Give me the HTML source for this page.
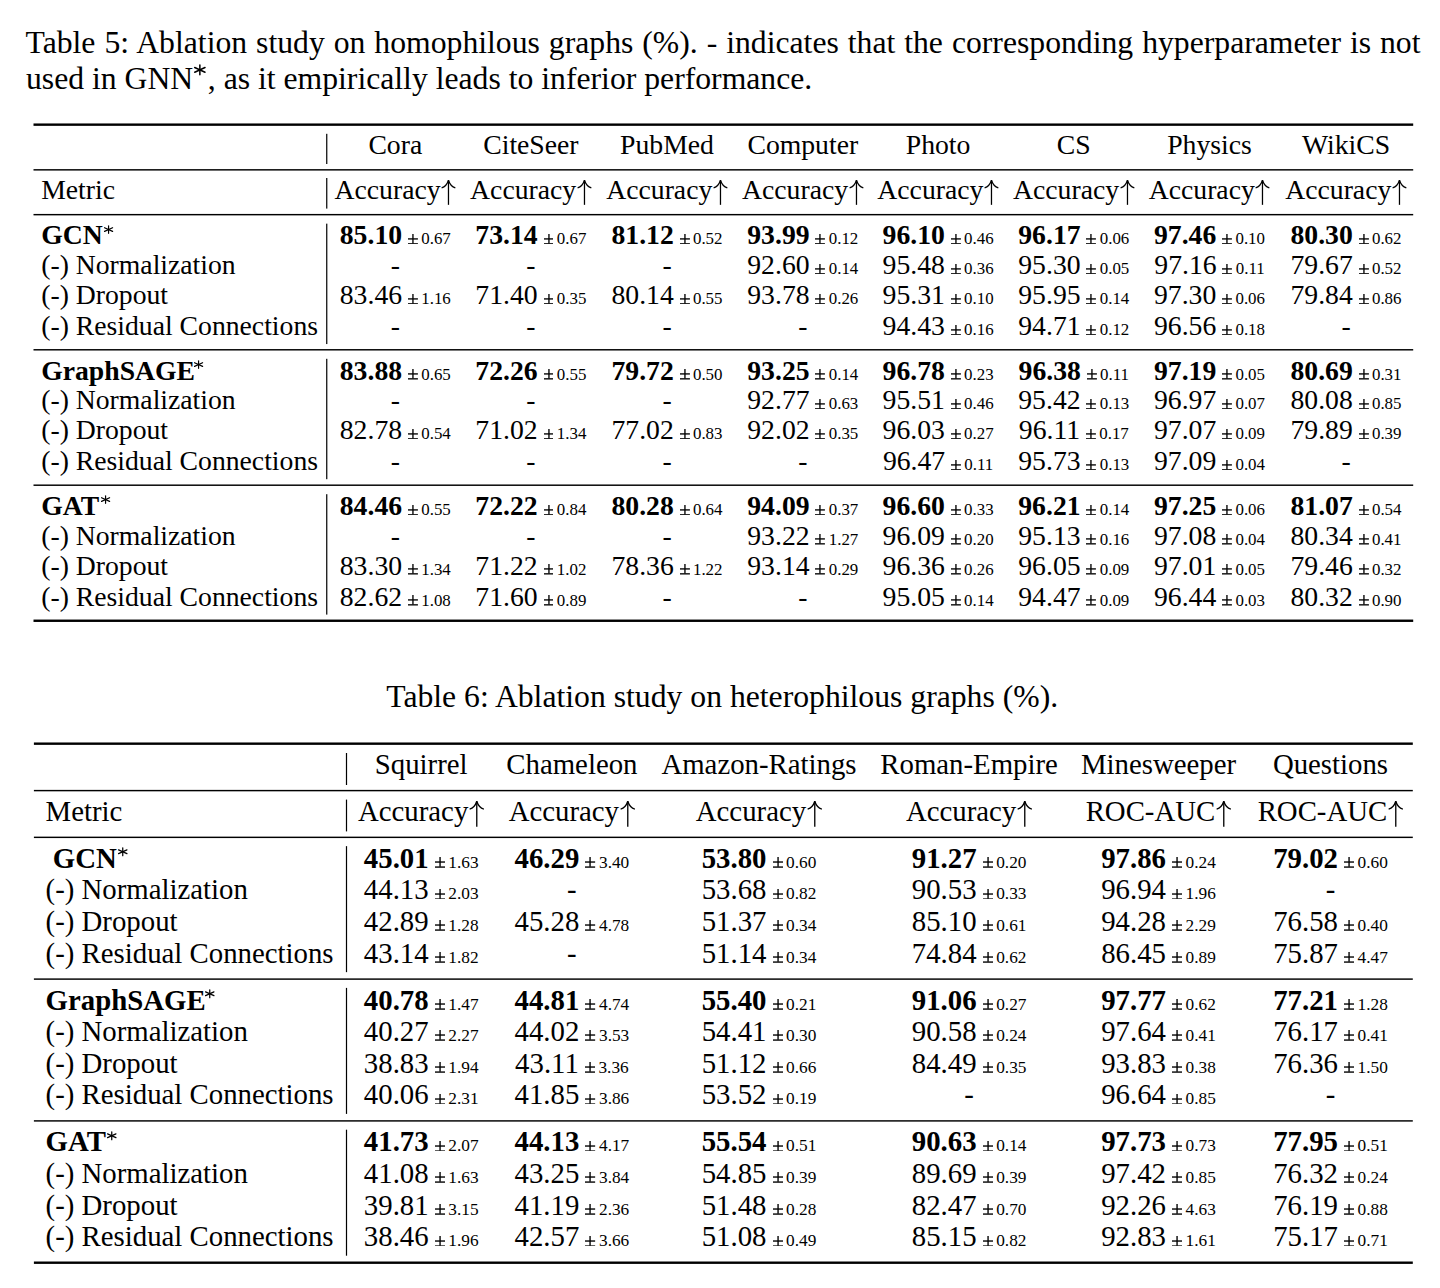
<!DOCTYPE html>
<html><head><meta charset="utf-8"><title>Ablation study tables</title>
<style>
html,body{margin:0;padding:0;background:#fff;}
body{width:1440px;height:1288px;position:relative;overflow:hidden;font-family:"Liberation Serif",serif;color:#000;}
.t{position:absolute;white-space:nowrap;line-height:1;}
.c{text-align:center;}
.r{text-align:right;}
.rl{position:absolute;background:#000;}
.st{width:0.33em;height:0.33em;vertical-align:0.38em;margin-left:0;overflow:visible;}
.cst{width:0.37em;height:0.37em;vertical-align:0.422em;margin-left:0.03em;margin-right:0.06em;}
.ar{width:0.54em;height:0.897em;vertical-align:-0.198em;margin-left:0.02em;}
.pm{width:0.587em;height:0.614em;vertical-align:0;margin-left:0.35em;margin-right:0.2em;}
b{font-weight:bold;}
</style></head><body>
<svg width="1440" height="1288" style="position:absolute;left:0;top:0" viewBox="0 0 1440 1288"><g fill="#000"><rect x="33.50" y="123.45" width="1379.70" height="2.4"/><rect x="33.50" y="169.12" width="1379.70" height="1.45"/><rect x="33.50" y="213.93" width="1379.70" height="1.45"/><rect x="326.15" y="133.80" width="1.2" height="30.20"/><rect x="326.15" y="178.00" width="1.2" height="30.60"/><rect x="33.50" y="349.07" width="1379.70" height="1.45"/><rect x="326.15" y="223.65" width="1.2" height="120.40"/><rect x="33.50" y="484.47" width="1379.70" height="1.45"/><rect x="326.15" y="358.80" width="1.2" height="120.40"/><rect x="33.50" y="619.55" width="1379.70" height="2.4"/><rect x="326.15" y="494.20" width="1.2" height="120.40"/><rect x="33.90" y="742.47" width="1378.90" height="2.4"/><rect x="33.90" y="789.88" width="1378.90" height="1.45"/><rect x="33.90" y="836.62" width="1378.90" height="1.45"/><rect x="345.90" y="753.00" width="1.2" height="32.00"/><rect x="345.90" y="799.60" width="1.2" height="31.80"/><rect x="33.90" y="978.38" width="1378.90" height="1.45"/><rect x="345.90" y="846.15" width="1.2" height="126.00"/><rect x="33.90" y="1120.18" width="1378.90" height="1.45"/><rect x="345.90" y="987.90" width="1.2" height="126.00"/><rect x="33.90" y="1261.50" width="1378.90" height="2.4"/><rect x="345.90" y="1129.70" width="1.2" height="126.00"/></g></svg>
<div class="t cap" style="left:25.5px;top:26.75px;font-size:31.7px;width:1395px;text-align:justify;text-align-last:justify">Table 5: Ablation study on homophilous graphs (%). - indicates that the corresponding hyperparameter is not</div>
<div class="t " style="left:26.00px;top:62.95px;font-size:31.7px">used in GNN<svg class="st cst" viewBox="-50 -50 100 100"><g stroke="#000" stroke-width="13" stroke-linecap="round"><line x1="0" y1="-41" x2="0" y2="41"/><line x1="-44" y1="-20" x2="44" y2="20"/><line x1="-44" y1="20" x2="44" y2="-20"/></g></svg>, as it empirically leads to inferior performance.</div>
<div class="t c " style="left:272.20px;width:900px;top:680.65px;font-size:31.7px">Table 6: Ablation study on heterophilous graphs (%).</div>
<div class="t c " style="left:265.30px;width:260px;top:131.00px;font-size:27.7px">Cora</div>
<div class="t c " style="left:265.30px;width:260px;top:176.20px;font-size:27.7px">Accuracy<svg class="ar" viewBox="0 0 540 897"><g fill="none" stroke="#000" stroke-width="46"><line x1="270" y1="10" x2="270" y2="897"/><path d="M22 281 Q200 230 270 8 Q340 230 518 281"/></g></svg></div>
<div class="t c " style="left:400.90px;width:260px;top:131.00px;font-size:27.7px">CiteSeer</div>
<div class="t c " style="left:400.90px;width:260px;top:176.20px;font-size:27.7px">Accuracy<svg class="ar" viewBox="0 0 540 897"><g fill="none" stroke="#000" stroke-width="46"><line x1="270" y1="10" x2="270" y2="897"/><path d="M22 281 Q200 230 270 8 Q340 230 518 281"/></g></svg></div>
<div class="t c " style="left:537.00px;width:260px;top:131.00px;font-size:27.7px">PubMed</div>
<div class="t c " style="left:537.00px;width:260px;top:176.20px;font-size:27.7px">Accuracy<svg class="ar" viewBox="0 0 540 897"><g fill="none" stroke="#000" stroke-width="46"><line x1="270" y1="10" x2="270" y2="897"/><path d="M22 281 Q200 230 270 8 Q340 230 518 281"/></g></svg></div>
<div class="t c " style="left:672.80px;width:260px;top:131.00px;font-size:27.7px">Computer</div>
<div class="t c " style="left:672.80px;width:260px;top:176.20px;font-size:27.7px">Accuracy<svg class="ar" viewBox="0 0 540 897"><g fill="none" stroke="#000" stroke-width="46"><line x1="270" y1="10" x2="270" y2="897"/><path d="M22 281 Q200 230 270 8 Q340 230 518 281"/></g></svg></div>
<div class="t c " style="left:808.10px;width:260px;top:131.00px;font-size:27.7px">Photo</div>
<div class="t c " style="left:808.10px;width:260px;top:176.20px;font-size:27.7px">Accuracy<svg class="ar" viewBox="0 0 540 897"><g fill="none" stroke="#000" stroke-width="46"><line x1="270" y1="10" x2="270" y2="897"/><path d="M22 281 Q200 230 270 8 Q340 230 518 281"/></g></svg></div>
<div class="t c " style="left:943.80px;width:260px;top:131.00px;font-size:27.7px">CS</div>
<div class="t c " style="left:943.80px;width:260px;top:176.20px;font-size:27.7px">Accuracy<svg class="ar" viewBox="0 0 540 897"><g fill="none" stroke="#000" stroke-width="46"><line x1="270" y1="10" x2="270" y2="897"/><path d="M22 281 Q200 230 270 8 Q340 230 518 281"/></g></svg></div>
<div class="t c " style="left:1079.50px;width:260px;top:131.00px;font-size:27.7px">Physics</div>
<div class="t c " style="left:1079.50px;width:260px;top:176.20px;font-size:27.7px">Accuracy<svg class="ar" viewBox="0 0 540 897"><g fill="none" stroke="#000" stroke-width="46"><line x1="270" y1="10" x2="270" y2="897"/><path d="M22 281 Q200 230 270 8 Q340 230 518 281"/></g></svg></div>
<div class="t c " style="left:1216.00px;width:260px;top:131.00px;font-size:27.7px">WikiCS</div>
<div class="t c " style="left:1216.00px;width:260px;top:176.20px;font-size:27.7px">Accuracy<svg class="ar" viewBox="0 0 540 897"><g fill="none" stroke="#000" stroke-width="46"><line x1="270" y1="10" x2="270" y2="897"/><path d="M22 281 Q200 230 270 8 Q340 230 518 281"/></g></svg></div>
<div class="t " style="left:41.20px;top:176.20px;font-size:27.7px">Metric</div>
<div class="t " style="left:41.20px;top:221.35px;font-size:27.7px"><b>GCN</b><svg class="st" style="margin-left:0.045em" viewBox="-50 -50 100 100"><g stroke="#000" stroke-width="13" stroke-linecap="round"><line x1="0" y1="-41" x2="0" y2="41"/><line x1="-44" y1="-20" x2="44" y2="20"/><line x1="-44" y1="20" x2="44" y2="-20"/></g></svg></div>
<div class="t c " style="left:265.30px;width:260px;top:221.35px;font-size:27.7px"><b>85.10</b><span class="sd" style="font-size:16.9px"><svg class="pm" viewBox="0 0 587 614"><g stroke="#000" stroke-width="80"><line x1="293" y1="0" x2="293" y2="560"/><line x1="0" y1="291" x2="587" y2="291"/><line x1="0" y1="583" x2="587" y2="583"/></g></svg>0.67</span></div>
<div class="t c " style="left:400.90px;width:260px;top:221.35px;font-size:27.7px"><b>73.14</b><span class="sd" style="font-size:16.9px"><svg class="pm" viewBox="0 0 587 614"><g stroke="#000" stroke-width="80"><line x1="293" y1="0" x2="293" y2="560"/><line x1="0" y1="291" x2="587" y2="291"/><line x1="0" y1="583" x2="587" y2="583"/></g></svg>0.67</span></div>
<div class="t c " style="left:537.00px;width:260px;top:221.35px;font-size:27.7px"><b>81.12</b><span class="sd" style="font-size:16.9px"><svg class="pm" viewBox="0 0 587 614"><g stroke="#000" stroke-width="80"><line x1="293" y1="0" x2="293" y2="560"/><line x1="0" y1="291" x2="587" y2="291"/><line x1="0" y1="583" x2="587" y2="583"/></g></svg>0.52</span></div>
<div class="t c " style="left:672.80px;width:260px;top:221.35px;font-size:27.7px"><b>93.99</b><span class="sd" style="font-size:16.9px"><svg class="pm" viewBox="0 0 587 614"><g stroke="#000" stroke-width="80"><line x1="293" y1="0" x2="293" y2="560"/><line x1="0" y1="291" x2="587" y2="291"/><line x1="0" y1="583" x2="587" y2="583"/></g></svg>0.12</span></div>
<div class="t c " style="left:808.10px;width:260px;top:221.35px;font-size:27.7px"><b>96.10</b><span class="sd" style="font-size:16.9px"><svg class="pm" viewBox="0 0 587 614"><g stroke="#000" stroke-width="80"><line x1="293" y1="0" x2="293" y2="560"/><line x1="0" y1="291" x2="587" y2="291"/><line x1="0" y1="583" x2="587" y2="583"/></g></svg>0.46</span></div>
<div class="t c " style="left:943.80px;width:260px;top:221.35px;font-size:27.7px"><b>96.17</b><span class="sd" style="font-size:16.9px"><svg class="pm" viewBox="0 0 587 614"><g stroke="#000" stroke-width="80"><line x1="293" y1="0" x2="293" y2="560"/><line x1="0" y1="291" x2="587" y2="291"/><line x1="0" y1="583" x2="587" y2="583"/></g></svg>0.06</span></div>
<div class="t c " style="left:1079.50px;width:260px;top:221.35px;font-size:27.7px"><b>97.46</b><span class="sd" style="font-size:16.9px"><svg class="pm" viewBox="0 0 587 614"><g stroke="#000" stroke-width="80"><line x1="293" y1="0" x2="293" y2="560"/><line x1="0" y1="291" x2="587" y2="291"/><line x1="0" y1="583" x2="587" y2="583"/></g></svg>0.10</span></div>
<div class="t c " style="left:1216.00px;width:260px;top:221.35px;font-size:27.7px"><b>80.30</b><span class="sd" style="font-size:16.9px"><svg class="pm" viewBox="0 0 587 614"><g stroke="#000" stroke-width="80"><line x1="293" y1="0" x2="293" y2="560"/><line x1="0" y1="291" x2="587" y2="291"/><line x1="0" y1="583" x2="587" y2="583"/></g></svg>0.62</span></div>
<div class="t " style="left:41.20px;top:251.25px;font-size:27.7px">(-) Normalization</div>
<div class="t c " style="left:265.30px;width:260px;top:251.25px;font-size:27.7px">-</div>
<div class="t c " style="left:400.90px;width:260px;top:251.25px;font-size:27.7px">-</div>
<div class="t c " style="left:537.00px;width:260px;top:251.25px;font-size:27.7px">-</div>
<div class="t c " style="left:672.80px;width:260px;top:251.25px;font-size:27.7px">92.60<span class="sd" style="font-size:16.9px"><svg class="pm" viewBox="0 0 587 614"><g stroke="#000" stroke-width="80"><line x1="293" y1="0" x2="293" y2="560"/><line x1="0" y1="291" x2="587" y2="291"/><line x1="0" y1="583" x2="587" y2="583"/></g></svg>0.14</span></div>
<div class="t c " style="left:808.10px;width:260px;top:251.25px;font-size:27.7px">95.48<span class="sd" style="font-size:16.9px"><svg class="pm" viewBox="0 0 587 614"><g stroke="#000" stroke-width="80"><line x1="293" y1="0" x2="293" y2="560"/><line x1="0" y1="291" x2="587" y2="291"/><line x1="0" y1="583" x2="587" y2="583"/></g></svg>0.36</span></div>
<div class="t c " style="left:943.80px;width:260px;top:251.25px;font-size:27.7px">95.30<span class="sd" style="font-size:16.9px"><svg class="pm" viewBox="0 0 587 614"><g stroke="#000" stroke-width="80"><line x1="293" y1="0" x2="293" y2="560"/><line x1="0" y1="291" x2="587" y2="291"/><line x1="0" y1="583" x2="587" y2="583"/></g></svg>0.05</span></div>
<div class="t c " style="left:1079.50px;width:260px;top:251.25px;font-size:27.7px">97.16<span class="sd" style="font-size:16.9px"><svg class="pm" viewBox="0 0 587 614"><g stroke="#000" stroke-width="80"><line x1="293" y1="0" x2="293" y2="560"/><line x1="0" y1="291" x2="587" y2="291"/><line x1="0" y1="583" x2="587" y2="583"/></g></svg>0.11</span></div>
<div class="t c " style="left:1216.00px;width:260px;top:251.25px;font-size:27.7px">79.67<span class="sd" style="font-size:16.9px"><svg class="pm" viewBox="0 0 587 614"><g stroke="#000" stroke-width="80"><line x1="293" y1="0" x2="293" y2="560"/><line x1="0" y1="291" x2="587" y2="291"/><line x1="0" y1="583" x2="587" y2="583"/></g></svg>0.52</span></div>
<div class="t " style="left:41.20px;top:281.10px;font-size:27.7px">(-) Dropout</div>
<div class="t c " style="left:265.30px;width:260px;top:281.10px;font-size:27.7px">83.46<span class="sd" style="font-size:16.9px"><svg class="pm" viewBox="0 0 587 614"><g stroke="#000" stroke-width="80"><line x1="293" y1="0" x2="293" y2="560"/><line x1="0" y1="291" x2="587" y2="291"/><line x1="0" y1="583" x2="587" y2="583"/></g></svg>1.16</span></div>
<div class="t c " style="left:400.90px;width:260px;top:281.10px;font-size:27.7px">71.40<span class="sd" style="font-size:16.9px"><svg class="pm" viewBox="0 0 587 614"><g stroke="#000" stroke-width="80"><line x1="293" y1="0" x2="293" y2="560"/><line x1="0" y1="291" x2="587" y2="291"/><line x1="0" y1="583" x2="587" y2="583"/></g></svg>0.35</span></div>
<div class="t c " style="left:537.00px;width:260px;top:281.10px;font-size:27.7px">80.14<span class="sd" style="font-size:16.9px"><svg class="pm" viewBox="0 0 587 614"><g stroke="#000" stroke-width="80"><line x1="293" y1="0" x2="293" y2="560"/><line x1="0" y1="291" x2="587" y2="291"/><line x1="0" y1="583" x2="587" y2="583"/></g></svg>0.55</span></div>
<div class="t c " style="left:672.80px;width:260px;top:281.10px;font-size:27.7px">93.78<span class="sd" style="font-size:16.9px"><svg class="pm" viewBox="0 0 587 614"><g stroke="#000" stroke-width="80"><line x1="293" y1="0" x2="293" y2="560"/><line x1="0" y1="291" x2="587" y2="291"/><line x1="0" y1="583" x2="587" y2="583"/></g></svg>0.26</span></div>
<div class="t c " style="left:808.10px;width:260px;top:281.10px;font-size:27.7px">95.31<span class="sd" style="font-size:16.9px"><svg class="pm" viewBox="0 0 587 614"><g stroke="#000" stroke-width="80"><line x1="293" y1="0" x2="293" y2="560"/><line x1="0" y1="291" x2="587" y2="291"/><line x1="0" y1="583" x2="587" y2="583"/></g></svg>0.10</span></div>
<div class="t c " style="left:943.80px;width:260px;top:281.10px;font-size:27.7px">95.95<span class="sd" style="font-size:16.9px"><svg class="pm" viewBox="0 0 587 614"><g stroke="#000" stroke-width="80"><line x1="293" y1="0" x2="293" y2="560"/><line x1="0" y1="291" x2="587" y2="291"/><line x1="0" y1="583" x2="587" y2="583"/></g></svg>0.14</span></div>
<div class="t c " style="left:1079.50px;width:260px;top:281.10px;font-size:27.7px">97.30<span class="sd" style="font-size:16.9px"><svg class="pm" viewBox="0 0 587 614"><g stroke="#000" stroke-width="80"><line x1="293" y1="0" x2="293" y2="560"/><line x1="0" y1="291" x2="587" y2="291"/><line x1="0" y1="583" x2="587" y2="583"/></g></svg>0.06</span></div>
<div class="t c " style="left:1216.00px;width:260px;top:281.10px;font-size:27.7px">79.84<span class="sd" style="font-size:16.9px"><svg class="pm" viewBox="0 0 587 614"><g stroke="#000" stroke-width="80"><line x1="293" y1="0" x2="293" y2="560"/><line x1="0" y1="291" x2="587" y2="291"/><line x1="0" y1="583" x2="587" y2="583"/></g></svg>0.86</span></div>
<div class="t " style="left:41.20px;top:311.95px;font-size:27.7px">(-) Residual Connections</div>
<div class="t c " style="left:265.30px;width:260px;top:311.95px;font-size:27.7px">-</div>
<div class="t c " style="left:400.90px;width:260px;top:311.95px;font-size:27.7px">-</div>
<div class="t c " style="left:537.00px;width:260px;top:311.95px;font-size:27.7px">-</div>
<div class="t c " style="left:672.80px;width:260px;top:311.95px;font-size:27.7px">-</div>
<div class="t c " style="left:808.10px;width:260px;top:311.95px;font-size:27.7px">94.43<span class="sd" style="font-size:16.9px"><svg class="pm" viewBox="0 0 587 614"><g stroke="#000" stroke-width="80"><line x1="293" y1="0" x2="293" y2="560"/><line x1="0" y1="291" x2="587" y2="291"/><line x1="0" y1="583" x2="587" y2="583"/></g></svg>0.16</span></div>
<div class="t c " style="left:943.80px;width:260px;top:311.95px;font-size:27.7px">94.71<span class="sd" style="font-size:16.9px"><svg class="pm" viewBox="0 0 587 614"><g stroke="#000" stroke-width="80"><line x1="293" y1="0" x2="293" y2="560"/><line x1="0" y1="291" x2="587" y2="291"/><line x1="0" y1="583" x2="587" y2="583"/></g></svg>0.12</span></div>
<div class="t c " style="left:1079.50px;width:260px;top:311.95px;font-size:27.7px">96.56<span class="sd" style="font-size:16.9px"><svg class="pm" viewBox="0 0 587 614"><g stroke="#000" stroke-width="80"><line x1="293" y1="0" x2="293" y2="560"/><line x1="0" y1="291" x2="587" y2="291"/><line x1="0" y1="583" x2="587" y2="583"/></g></svg>0.18</span></div>
<div class="t c " style="left:1216.00px;width:260px;top:311.95px;font-size:27.7px">-</div>
<div class="t " style="left:41.20px;top:356.50px;font-size:27.7px"><b>GraphSAGE</b><svg class="st" style="margin-left:-0.036em" viewBox="-50 -50 100 100"><g stroke="#000" stroke-width="13" stroke-linecap="round"><line x1="0" y1="-41" x2="0" y2="41"/><line x1="-44" y1="-20" x2="44" y2="20"/><line x1="-44" y1="20" x2="44" y2="-20"/></g></svg></div>
<div class="t c " style="left:265.30px;width:260px;top:356.50px;font-size:27.7px"><b>83.88</b><span class="sd" style="font-size:16.9px"><svg class="pm" viewBox="0 0 587 614"><g stroke="#000" stroke-width="80"><line x1="293" y1="0" x2="293" y2="560"/><line x1="0" y1="291" x2="587" y2="291"/><line x1="0" y1="583" x2="587" y2="583"/></g></svg>0.65</span></div>
<div class="t c " style="left:400.90px;width:260px;top:356.50px;font-size:27.7px"><b>72.26</b><span class="sd" style="font-size:16.9px"><svg class="pm" viewBox="0 0 587 614"><g stroke="#000" stroke-width="80"><line x1="293" y1="0" x2="293" y2="560"/><line x1="0" y1="291" x2="587" y2="291"/><line x1="0" y1="583" x2="587" y2="583"/></g></svg>0.55</span></div>
<div class="t c " style="left:537.00px;width:260px;top:356.50px;font-size:27.7px"><b>79.72</b><span class="sd" style="font-size:16.9px"><svg class="pm" viewBox="0 0 587 614"><g stroke="#000" stroke-width="80"><line x1="293" y1="0" x2="293" y2="560"/><line x1="0" y1="291" x2="587" y2="291"/><line x1="0" y1="583" x2="587" y2="583"/></g></svg>0.50</span></div>
<div class="t c " style="left:672.80px;width:260px;top:356.50px;font-size:27.7px"><b>93.25</b><span class="sd" style="font-size:16.9px"><svg class="pm" viewBox="0 0 587 614"><g stroke="#000" stroke-width="80"><line x1="293" y1="0" x2="293" y2="560"/><line x1="0" y1="291" x2="587" y2="291"/><line x1="0" y1="583" x2="587" y2="583"/></g></svg>0.14</span></div>
<div class="t c " style="left:808.10px;width:260px;top:356.50px;font-size:27.7px"><b>96.78</b><span class="sd" style="font-size:16.9px"><svg class="pm" viewBox="0 0 587 614"><g stroke="#000" stroke-width="80"><line x1="293" y1="0" x2="293" y2="560"/><line x1="0" y1="291" x2="587" y2="291"/><line x1="0" y1="583" x2="587" y2="583"/></g></svg>0.23</span></div>
<div class="t c " style="left:943.80px;width:260px;top:356.50px;font-size:27.7px"><b>96.38</b><span class="sd" style="font-size:16.9px"><svg class="pm" viewBox="0 0 587 614"><g stroke="#000" stroke-width="80"><line x1="293" y1="0" x2="293" y2="560"/><line x1="0" y1="291" x2="587" y2="291"/><line x1="0" y1="583" x2="587" y2="583"/></g></svg>0.11</span></div>
<div class="t c " style="left:1079.50px;width:260px;top:356.50px;font-size:27.7px"><b>97.19</b><span class="sd" style="font-size:16.9px"><svg class="pm" viewBox="0 0 587 614"><g stroke="#000" stroke-width="80"><line x1="293" y1="0" x2="293" y2="560"/><line x1="0" y1="291" x2="587" y2="291"/><line x1="0" y1="583" x2="587" y2="583"/></g></svg>0.05</span></div>
<div class="t c " style="left:1216.00px;width:260px;top:356.50px;font-size:27.7px"><b>80.69</b><span class="sd" style="font-size:16.9px"><svg class="pm" viewBox="0 0 587 614"><g stroke="#000" stroke-width="80"><line x1="293" y1="0" x2="293" y2="560"/><line x1="0" y1="291" x2="587" y2="291"/><line x1="0" y1="583" x2="587" y2="583"/></g></svg>0.31</span></div>
<div class="t " style="left:41.20px;top:386.40px;font-size:27.7px">(-) Normalization</div>
<div class="t c " style="left:265.30px;width:260px;top:386.40px;font-size:27.7px">-</div>
<div class="t c " style="left:400.90px;width:260px;top:386.40px;font-size:27.7px">-</div>
<div class="t c " style="left:537.00px;width:260px;top:386.40px;font-size:27.7px">-</div>
<div class="t c " style="left:672.80px;width:260px;top:386.40px;font-size:27.7px">92.77<span class="sd" style="font-size:16.9px"><svg class="pm" viewBox="0 0 587 614"><g stroke="#000" stroke-width="80"><line x1="293" y1="0" x2="293" y2="560"/><line x1="0" y1="291" x2="587" y2="291"/><line x1="0" y1="583" x2="587" y2="583"/></g></svg>0.63</span></div>
<div class="t c " style="left:808.10px;width:260px;top:386.40px;font-size:27.7px">95.51<span class="sd" style="font-size:16.9px"><svg class="pm" viewBox="0 0 587 614"><g stroke="#000" stroke-width="80"><line x1="293" y1="0" x2="293" y2="560"/><line x1="0" y1="291" x2="587" y2="291"/><line x1="0" y1="583" x2="587" y2="583"/></g></svg>0.46</span></div>
<div class="t c " style="left:943.80px;width:260px;top:386.40px;font-size:27.7px">95.42<span class="sd" style="font-size:16.9px"><svg class="pm" viewBox="0 0 587 614"><g stroke="#000" stroke-width="80"><line x1="293" y1="0" x2="293" y2="560"/><line x1="0" y1="291" x2="587" y2="291"/><line x1="0" y1="583" x2="587" y2="583"/></g></svg>0.13</span></div>
<div class="t c " style="left:1079.50px;width:260px;top:386.40px;font-size:27.7px">96.97<span class="sd" style="font-size:16.9px"><svg class="pm" viewBox="0 0 587 614"><g stroke="#000" stroke-width="80"><line x1="293" y1="0" x2="293" y2="560"/><line x1="0" y1="291" x2="587" y2="291"/><line x1="0" y1="583" x2="587" y2="583"/></g></svg>0.07</span></div>
<div class="t c " style="left:1216.00px;width:260px;top:386.40px;font-size:27.7px">80.08<span class="sd" style="font-size:16.9px"><svg class="pm" viewBox="0 0 587 614"><g stroke="#000" stroke-width="80"><line x1="293" y1="0" x2="293" y2="560"/><line x1="0" y1="291" x2="587" y2="291"/><line x1="0" y1="583" x2="587" y2="583"/></g></svg>0.85</span></div>
<div class="t " style="left:41.20px;top:416.25px;font-size:27.7px">(-) Dropout</div>
<div class="t c " style="left:265.30px;width:260px;top:416.25px;font-size:27.7px">82.78<span class="sd" style="font-size:16.9px"><svg class="pm" viewBox="0 0 587 614"><g stroke="#000" stroke-width="80"><line x1="293" y1="0" x2="293" y2="560"/><line x1="0" y1="291" x2="587" y2="291"/><line x1="0" y1="583" x2="587" y2="583"/></g></svg>0.54</span></div>
<div class="t c " style="left:400.90px;width:260px;top:416.25px;font-size:27.7px">71.02<span class="sd" style="font-size:16.9px"><svg class="pm" viewBox="0 0 587 614"><g stroke="#000" stroke-width="80"><line x1="293" y1="0" x2="293" y2="560"/><line x1="0" y1="291" x2="587" y2="291"/><line x1="0" y1="583" x2="587" y2="583"/></g></svg>1.34</span></div>
<div class="t c " style="left:537.00px;width:260px;top:416.25px;font-size:27.7px">77.02<span class="sd" style="font-size:16.9px"><svg class="pm" viewBox="0 0 587 614"><g stroke="#000" stroke-width="80"><line x1="293" y1="0" x2="293" y2="560"/><line x1="0" y1="291" x2="587" y2="291"/><line x1="0" y1="583" x2="587" y2="583"/></g></svg>0.83</span></div>
<div class="t c " style="left:672.80px;width:260px;top:416.25px;font-size:27.7px">92.02<span class="sd" style="font-size:16.9px"><svg class="pm" viewBox="0 0 587 614"><g stroke="#000" stroke-width="80"><line x1="293" y1="0" x2="293" y2="560"/><line x1="0" y1="291" x2="587" y2="291"/><line x1="0" y1="583" x2="587" y2="583"/></g></svg>0.35</span></div>
<div class="t c " style="left:808.10px;width:260px;top:416.25px;font-size:27.7px">96.03<span class="sd" style="font-size:16.9px"><svg class="pm" viewBox="0 0 587 614"><g stroke="#000" stroke-width="80"><line x1="293" y1="0" x2="293" y2="560"/><line x1="0" y1="291" x2="587" y2="291"/><line x1="0" y1="583" x2="587" y2="583"/></g></svg>0.27</span></div>
<div class="t c " style="left:943.80px;width:260px;top:416.25px;font-size:27.7px">96.11<span class="sd" style="font-size:16.9px"><svg class="pm" viewBox="0 0 587 614"><g stroke="#000" stroke-width="80"><line x1="293" y1="0" x2="293" y2="560"/><line x1="0" y1="291" x2="587" y2="291"/><line x1="0" y1="583" x2="587" y2="583"/></g></svg>0.17</span></div>
<div class="t c " style="left:1079.50px;width:260px;top:416.25px;font-size:27.7px">97.07<span class="sd" style="font-size:16.9px"><svg class="pm" viewBox="0 0 587 614"><g stroke="#000" stroke-width="80"><line x1="293" y1="0" x2="293" y2="560"/><line x1="0" y1="291" x2="587" y2="291"/><line x1="0" y1="583" x2="587" y2="583"/></g></svg>0.09</span></div>
<div class="t c " style="left:1216.00px;width:260px;top:416.25px;font-size:27.7px">79.89<span class="sd" style="font-size:16.9px"><svg class="pm" viewBox="0 0 587 614"><g stroke="#000" stroke-width="80"><line x1="293" y1="0" x2="293" y2="560"/><line x1="0" y1="291" x2="587" y2="291"/><line x1="0" y1="583" x2="587" y2="583"/></g></svg>0.39</span></div>
<div class="t " style="left:41.20px;top:447.10px;font-size:27.7px">(-) Residual Connections</div>
<div class="t c " style="left:265.30px;width:260px;top:447.10px;font-size:27.7px">-</div>
<div class="t c " style="left:400.90px;width:260px;top:447.10px;font-size:27.7px">-</div>
<div class="t c " style="left:537.00px;width:260px;top:447.10px;font-size:27.7px">-</div>
<div class="t c " style="left:672.80px;width:260px;top:447.10px;font-size:27.7px">-</div>
<div class="t c " style="left:808.10px;width:260px;top:447.10px;font-size:27.7px">96.47<span class="sd" style="font-size:16.9px"><svg class="pm" viewBox="0 0 587 614"><g stroke="#000" stroke-width="80"><line x1="293" y1="0" x2="293" y2="560"/><line x1="0" y1="291" x2="587" y2="291"/><line x1="0" y1="583" x2="587" y2="583"/></g></svg>0.11</span></div>
<div class="t c " style="left:943.80px;width:260px;top:447.10px;font-size:27.7px">95.73<span class="sd" style="font-size:16.9px"><svg class="pm" viewBox="0 0 587 614"><g stroke="#000" stroke-width="80"><line x1="293" y1="0" x2="293" y2="560"/><line x1="0" y1="291" x2="587" y2="291"/><line x1="0" y1="583" x2="587" y2="583"/></g></svg>0.13</span></div>
<div class="t c " style="left:1079.50px;width:260px;top:447.10px;font-size:27.7px">97.09<span class="sd" style="font-size:16.9px"><svg class="pm" viewBox="0 0 587 614"><g stroke="#000" stroke-width="80"><line x1="293" y1="0" x2="293" y2="560"/><line x1="0" y1="291" x2="587" y2="291"/><line x1="0" y1="583" x2="587" y2="583"/></g></svg>0.04</span></div>
<div class="t c " style="left:1216.00px;width:260px;top:447.10px;font-size:27.7px">-</div>
<div class="t " style="left:41.20px;top:491.90px;font-size:27.7px"><b>GAT</b><svg class="st" style="margin-left:0.05em" viewBox="-50 -50 100 100"><g stroke="#000" stroke-width="13" stroke-linecap="round"><line x1="0" y1="-41" x2="0" y2="41"/><line x1="-44" y1="-20" x2="44" y2="20"/><line x1="-44" y1="20" x2="44" y2="-20"/></g></svg></div>
<div class="t c " style="left:265.30px;width:260px;top:491.90px;font-size:27.7px"><b>84.46</b><span class="sd" style="font-size:16.9px"><svg class="pm" viewBox="0 0 587 614"><g stroke="#000" stroke-width="80"><line x1="293" y1="0" x2="293" y2="560"/><line x1="0" y1="291" x2="587" y2="291"/><line x1="0" y1="583" x2="587" y2="583"/></g></svg>0.55</span></div>
<div class="t c " style="left:400.90px;width:260px;top:491.90px;font-size:27.7px"><b>72.22</b><span class="sd" style="font-size:16.9px"><svg class="pm" viewBox="0 0 587 614"><g stroke="#000" stroke-width="80"><line x1="293" y1="0" x2="293" y2="560"/><line x1="0" y1="291" x2="587" y2="291"/><line x1="0" y1="583" x2="587" y2="583"/></g></svg>0.84</span></div>
<div class="t c " style="left:537.00px;width:260px;top:491.90px;font-size:27.7px"><b>80.28</b><span class="sd" style="font-size:16.9px"><svg class="pm" viewBox="0 0 587 614"><g stroke="#000" stroke-width="80"><line x1="293" y1="0" x2="293" y2="560"/><line x1="0" y1="291" x2="587" y2="291"/><line x1="0" y1="583" x2="587" y2="583"/></g></svg>0.64</span></div>
<div class="t c " style="left:672.80px;width:260px;top:491.90px;font-size:27.7px"><b>94.09</b><span class="sd" style="font-size:16.9px"><svg class="pm" viewBox="0 0 587 614"><g stroke="#000" stroke-width="80"><line x1="293" y1="0" x2="293" y2="560"/><line x1="0" y1="291" x2="587" y2="291"/><line x1="0" y1="583" x2="587" y2="583"/></g></svg>0.37</span></div>
<div class="t c " style="left:808.10px;width:260px;top:491.90px;font-size:27.7px"><b>96.60</b><span class="sd" style="font-size:16.9px"><svg class="pm" viewBox="0 0 587 614"><g stroke="#000" stroke-width="80"><line x1="293" y1="0" x2="293" y2="560"/><line x1="0" y1="291" x2="587" y2="291"/><line x1="0" y1="583" x2="587" y2="583"/></g></svg>0.33</span></div>
<div class="t c " style="left:943.80px;width:260px;top:491.90px;font-size:27.7px"><b>96.21</b><span class="sd" style="font-size:16.9px"><svg class="pm" viewBox="0 0 587 614"><g stroke="#000" stroke-width="80"><line x1="293" y1="0" x2="293" y2="560"/><line x1="0" y1="291" x2="587" y2="291"/><line x1="0" y1="583" x2="587" y2="583"/></g></svg>0.14</span></div>
<div class="t c " style="left:1079.50px;width:260px;top:491.90px;font-size:27.7px"><b>97.25</b><span class="sd" style="font-size:16.9px"><svg class="pm" viewBox="0 0 587 614"><g stroke="#000" stroke-width="80"><line x1="293" y1="0" x2="293" y2="560"/><line x1="0" y1="291" x2="587" y2="291"/><line x1="0" y1="583" x2="587" y2="583"/></g></svg>0.06</span></div>
<div class="t c " style="left:1216.00px;width:260px;top:491.90px;font-size:27.7px"><b>81.07</b><span class="sd" style="font-size:16.9px"><svg class="pm" viewBox="0 0 587 614"><g stroke="#000" stroke-width="80"><line x1="293" y1="0" x2="293" y2="560"/><line x1="0" y1="291" x2="587" y2="291"/><line x1="0" y1="583" x2="587" y2="583"/></g></svg>0.54</span></div>
<div class="t " style="left:41.20px;top:521.80px;font-size:27.7px">(-) Normalization</div>
<div class="t c " style="left:265.30px;width:260px;top:521.80px;font-size:27.7px">-</div>
<div class="t c " style="left:400.90px;width:260px;top:521.80px;font-size:27.7px">-</div>
<div class="t c " style="left:537.00px;width:260px;top:521.80px;font-size:27.7px">-</div>
<div class="t c " style="left:672.80px;width:260px;top:521.80px;font-size:27.7px">93.22<span class="sd" style="font-size:16.9px"><svg class="pm" viewBox="0 0 587 614"><g stroke="#000" stroke-width="80"><line x1="293" y1="0" x2="293" y2="560"/><line x1="0" y1="291" x2="587" y2="291"/><line x1="0" y1="583" x2="587" y2="583"/></g></svg>1.27</span></div>
<div class="t c " style="left:808.10px;width:260px;top:521.80px;font-size:27.7px">96.09<span class="sd" style="font-size:16.9px"><svg class="pm" viewBox="0 0 587 614"><g stroke="#000" stroke-width="80"><line x1="293" y1="0" x2="293" y2="560"/><line x1="0" y1="291" x2="587" y2="291"/><line x1="0" y1="583" x2="587" y2="583"/></g></svg>0.20</span></div>
<div class="t c " style="left:943.80px;width:260px;top:521.80px;font-size:27.7px">95.13<span class="sd" style="font-size:16.9px"><svg class="pm" viewBox="0 0 587 614"><g stroke="#000" stroke-width="80"><line x1="293" y1="0" x2="293" y2="560"/><line x1="0" y1="291" x2="587" y2="291"/><line x1="0" y1="583" x2="587" y2="583"/></g></svg>0.16</span></div>
<div class="t c " style="left:1079.50px;width:260px;top:521.80px;font-size:27.7px">97.08<span class="sd" style="font-size:16.9px"><svg class="pm" viewBox="0 0 587 614"><g stroke="#000" stroke-width="80"><line x1="293" y1="0" x2="293" y2="560"/><line x1="0" y1="291" x2="587" y2="291"/><line x1="0" y1="583" x2="587" y2="583"/></g></svg>0.04</span></div>
<div class="t c " style="left:1216.00px;width:260px;top:521.80px;font-size:27.7px">80.34<span class="sd" style="font-size:16.9px"><svg class="pm" viewBox="0 0 587 614"><g stroke="#000" stroke-width="80"><line x1="293" y1="0" x2="293" y2="560"/><line x1="0" y1="291" x2="587" y2="291"/><line x1="0" y1="583" x2="587" y2="583"/></g></svg>0.41</span></div>
<div class="t " style="left:41.20px;top:551.65px;font-size:27.7px">(-) Dropout</div>
<div class="t c " style="left:265.30px;width:260px;top:551.65px;font-size:27.7px">83.30<span class="sd" style="font-size:16.9px"><svg class="pm" viewBox="0 0 587 614"><g stroke="#000" stroke-width="80"><line x1="293" y1="0" x2="293" y2="560"/><line x1="0" y1="291" x2="587" y2="291"/><line x1="0" y1="583" x2="587" y2="583"/></g></svg>1.34</span></div>
<div class="t c " style="left:400.90px;width:260px;top:551.65px;font-size:27.7px">71.22<span class="sd" style="font-size:16.9px"><svg class="pm" viewBox="0 0 587 614"><g stroke="#000" stroke-width="80"><line x1="293" y1="0" x2="293" y2="560"/><line x1="0" y1="291" x2="587" y2="291"/><line x1="0" y1="583" x2="587" y2="583"/></g></svg>1.02</span></div>
<div class="t c " style="left:537.00px;width:260px;top:551.65px;font-size:27.7px">78.36<span class="sd" style="font-size:16.9px"><svg class="pm" viewBox="0 0 587 614"><g stroke="#000" stroke-width="80"><line x1="293" y1="0" x2="293" y2="560"/><line x1="0" y1="291" x2="587" y2="291"/><line x1="0" y1="583" x2="587" y2="583"/></g></svg>1.22</span></div>
<div class="t c " style="left:672.80px;width:260px;top:551.65px;font-size:27.7px">93.14<span class="sd" style="font-size:16.9px"><svg class="pm" viewBox="0 0 587 614"><g stroke="#000" stroke-width="80"><line x1="293" y1="0" x2="293" y2="560"/><line x1="0" y1="291" x2="587" y2="291"/><line x1="0" y1="583" x2="587" y2="583"/></g></svg>0.29</span></div>
<div class="t c " style="left:808.10px;width:260px;top:551.65px;font-size:27.7px">96.36<span class="sd" style="font-size:16.9px"><svg class="pm" viewBox="0 0 587 614"><g stroke="#000" stroke-width="80"><line x1="293" y1="0" x2="293" y2="560"/><line x1="0" y1="291" x2="587" y2="291"/><line x1="0" y1="583" x2="587" y2="583"/></g></svg>0.26</span></div>
<div class="t c " style="left:943.80px;width:260px;top:551.65px;font-size:27.7px">96.05<span class="sd" style="font-size:16.9px"><svg class="pm" viewBox="0 0 587 614"><g stroke="#000" stroke-width="80"><line x1="293" y1="0" x2="293" y2="560"/><line x1="0" y1="291" x2="587" y2="291"/><line x1="0" y1="583" x2="587" y2="583"/></g></svg>0.09</span></div>
<div class="t c " style="left:1079.50px;width:260px;top:551.65px;font-size:27.7px">97.01<span class="sd" style="font-size:16.9px"><svg class="pm" viewBox="0 0 587 614"><g stroke="#000" stroke-width="80"><line x1="293" y1="0" x2="293" y2="560"/><line x1="0" y1="291" x2="587" y2="291"/><line x1="0" y1="583" x2="587" y2="583"/></g></svg>0.05</span></div>
<div class="t c " style="left:1216.00px;width:260px;top:551.65px;font-size:27.7px">79.46<span class="sd" style="font-size:16.9px"><svg class="pm" viewBox="0 0 587 614"><g stroke="#000" stroke-width="80"><line x1="293" y1="0" x2="293" y2="560"/><line x1="0" y1="291" x2="587" y2="291"/><line x1="0" y1="583" x2="587" y2="583"/></g></svg>0.32</span></div>
<div class="t " style="left:41.20px;top:582.50px;font-size:27.7px">(-) Residual Connections</div>
<div class="t c " style="left:265.30px;width:260px;top:582.50px;font-size:27.7px">82.62<span class="sd" style="font-size:16.9px"><svg class="pm" viewBox="0 0 587 614"><g stroke="#000" stroke-width="80"><line x1="293" y1="0" x2="293" y2="560"/><line x1="0" y1="291" x2="587" y2="291"/><line x1="0" y1="583" x2="587" y2="583"/></g></svg>1.08</span></div>
<div class="t c " style="left:400.90px;width:260px;top:582.50px;font-size:27.7px">71.60<span class="sd" style="font-size:16.9px"><svg class="pm" viewBox="0 0 587 614"><g stroke="#000" stroke-width="80"><line x1="293" y1="0" x2="293" y2="560"/><line x1="0" y1="291" x2="587" y2="291"/><line x1="0" y1="583" x2="587" y2="583"/></g></svg>0.89</span></div>
<div class="t c " style="left:537.00px;width:260px;top:582.50px;font-size:27.7px">-</div>
<div class="t c " style="left:672.80px;width:260px;top:582.50px;font-size:27.7px">-</div>
<div class="t c " style="left:808.10px;width:260px;top:582.50px;font-size:27.7px">95.05<span class="sd" style="font-size:16.9px"><svg class="pm" viewBox="0 0 587 614"><g stroke="#000" stroke-width="80"><line x1="293" y1="0" x2="293" y2="560"/><line x1="0" y1="291" x2="587" y2="291"/><line x1="0" y1="583" x2="587" y2="583"/></g></svg>0.14</span></div>
<div class="t c " style="left:943.80px;width:260px;top:582.50px;font-size:27.7px">94.47<span class="sd" style="font-size:16.9px"><svg class="pm" viewBox="0 0 587 614"><g stroke="#000" stroke-width="80"><line x1="293" y1="0" x2="293" y2="560"/><line x1="0" y1="291" x2="587" y2="291"/><line x1="0" y1="583" x2="587" y2="583"/></g></svg>0.09</span></div>
<div class="t c " style="left:1079.50px;width:260px;top:582.50px;font-size:27.7px">96.44<span class="sd" style="font-size:16.9px"><svg class="pm" viewBox="0 0 587 614"><g stroke="#000" stroke-width="80"><line x1="293" y1="0" x2="293" y2="560"/><line x1="0" y1="291" x2="587" y2="291"/><line x1="0" y1="583" x2="587" y2="583"/></g></svg>0.03</span></div>
<div class="t c " style="left:1216.00px;width:260px;top:582.50px;font-size:27.7px">80.32<span class="sd" style="font-size:16.9px"><svg class="pm" viewBox="0 0 587 614"><g stroke="#000" stroke-width="80"><line x1="293" y1="0" x2="293" y2="560"/><line x1="0" y1="291" x2="587" y2="291"/><line x1="0" y1="583" x2="587" y2="583"/></g></svg>0.90</span></div>
<div class="t c " style="left:291.20px;width:260px;top:750.18px;font-size:28.8px">Squirrel</div>
<div class="t c " style="left:291.20px;width:260px;top:797.28px;font-size:28.8px">Accuracy<svg class="ar" viewBox="0 0 540 897"><g fill="none" stroke="#000" stroke-width="46"><line x1="270" y1="10" x2="270" y2="897"/><path d="M22 281 Q200 230 270 8 Q340 230 518 281"/></g></svg></div>
<div class="t c " style="left:441.90px;width:260px;top:750.18px;font-size:28.8px">Chameleon</div>
<div class="t c " style="left:441.90px;width:260px;top:797.28px;font-size:28.8px">Accuracy<svg class="ar" viewBox="0 0 540 897"><g fill="none" stroke="#000" stroke-width="46"><line x1="270" y1="10" x2="270" y2="897"/><path d="M22 281 Q200 230 270 8 Q340 230 518 281"/></g></svg></div>
<div class="t c " style="left:629.00px;width:260px;top:750.18px;font-size:28.8px">Amazon-Ratings</div>
<div class="t c " style="left:629.00px;width:260px;top:797.28px;font-size:28.8px">Accuracy<svg class="ar" viewBox="0 0 540 897"><g fill="none" stroke="#000" stroke-width="46"><line x1="270" y1="10" x2="270" y2="897"/><path d="M22 281 Q200 230 270 8 Q340 230 518 281"/></g></svg></div>
<div class="t c " style="left:839.10px;width:260px;top:750.18px;font-size:28.8px">Roman-Empire</div>
<div class="t c " style="left:839.10px;width:260px;top:797.28px;font-size:28.8px">Accuracy<svg class="ar" viewBox="0 0 540 897"><g fill="none" stroke="#000" stroke-width="46"><line x1="270" y1="10" x2="270" y2="897"/><path d="M22 281 Q200 230 270 8 Q340 230 518 281"/></g></svg></div>
<div class="t c " style="left:1028.50px;width:260px;top:750.18px;font-size:28.8px">Minesweeper</div>
<div class="t c " style="left:1028.50px;width:260px;top:797.28px;font-size:28.8px">ROC-AUC<svg class="ar" viewBox="0 0 540 897"><g fill="none" stroke="#000" stroke-width="46"><line x1="270" y1="10" x2="270" y2="897"/><path d="M22 281 Q200 230 270 8 Q340 230 518 281"/></g></svg></div>
<div class="t c " style="left:1200.50px;width:260px;top:750.18px;font-size:28.8px">Questions</div>
<div class="t c " style="left:1200.50px;width:260px;top:797.28px;font-size:28.8px">ROC-AUC<svg class="ar" viewBox="0 0 540 897"><g fill="none" stroke="#000" stroke-width="46"><line x1="270" y1="10" x2="270" y2="897"/><path d="M22 281 Q200 230 270 8 Q340 230 518 281"/></g></svg></div>
<div class="t " style="left:45.60px;top:797.28px;font-size:28.8px">Metric</div>
<div class="t " style="left:52.80px;top:843.88px;font-size:28.8px"><b>GCN</b><svg class="st" style="margin-left:0.045em" viewBox="-50 -50 100 100"><g stroke="#000" stroke-width="13" stroke-linecap="round"><line x1="0" y1="-41" x2="0" y2="41"/><line x1="-44" y1="-20" x2="44" y2="20"/><line x1="-44" y1="20" x2="44" y2="-20"/></g></svg></div>
<div class="t c " style="left:291.20px;width:260px;top:843.88px;font-size:28.8px"><b>45.01</b><span class="sd" style="font-size:17.3px"><svg class="pm" viewBox="0 0 587 614"><g stroke="#000" stroke-width="80"><line x1="293" y1="0" x2="293" y2="560"/><line x1="0" y1="291" x2="587" y2="291"/><line x1="0" y1="583" x2="587" y2="583"/></g></svg>1.63</span></div>
<div class="t c " style="left:441.90px;width:260px;top:843.88px;font-size:28.8px"><b>46.29</b><span class="sd" style="font-size:17.3px"><svg class="pm" viewBox="0 0 587 614"><g stroke="#000" stroke-width="80"><line x1="293" y1="0" x2="293" y2="560"/><line x1="0" y1="291" x2="587" y2="291"/><line x1="0" y1="583" x2="587" y2="583"/></g></svg>3.40</span></div>
<div class="t c " style="left:629.00px;width:260px;top:843.88px;font-size:28.8px"><b>53.80</b><span class="sd" style="font-size:17.3px"><svg class="pm" viewBox="0 0 587 614"><g stroke="#000" stroke-width="80"><line x1="293" y1="0" x2="293" y2="560"/><line x1="0" y1="291" x2="587" y2="291"/><line x1="0" y1="583" x2="587" y2="583"/></g></svg>0.60</span></div>
<div class="t c " style="left:839.10px;width:260px;top:843.88px;font-size:28.8px"><b>91.27</b><span class="sd" style="font-size:17.3px"><svg class="pm" viewBox="0 0 587 614"><g stroke="#000" stroke-width="80"><line x1="293" y1="0" x2="293" y2="560"/><line x1="0" y1="291" x2="587" y2="291"/><line x1="0" y1="583" x2="587" y2="583"/></g></svg>0.20</span></div>
<div class="t c " style="left:1028.50px;width:260px;top:843.88px;font-size:28.8px"><b>97.86</b><span class="sd" style="font-size:17.3px"><svg class="pm" viewBox="0 0 587 614"><g stroke="#000" stroke-width="80"><line x1="293" y1="0" x2="293" y2="560"/><line x1="0" y1="291" x2="587" y2="291"/><line x1="0" y1="583" x2="587" y2="583"/></g></svg>0.24</span></div>
<div class="t c " style="left:1200.50px;width:260px;top:843.88px;font-size:28.8px"><b>79.02</b><span class="sd" style="font-size:17.3px"><svg class="pm" viewBox="0 0 587 614"><g stroke="#000" stroke-width="80"><line x1="293" y1="0" x2="293" y2="560"/><line x1="0" y1="291" x2="587" y2="291"/><line x1="0" y1="583" x2="587" y2="583"/></g></svg>0.60</span></div>
<div class="t " style="left:45.60px;top:875.28px;font-size:28.8px">(-) Normalization</div>
<div class="t c " style="left:291.20px;width:260px;top:875.28px;font-size:28.8px">44.13<span class="sd" style="font-size:17.3px"><svg class="pm" viewBox="0 0 587 614"><g stroke="#000" stroke-width="80"><line x1="293" y1="0" x2="293" y2="560"/><line x1="0" y1="291" x2="587" y2="291"/><line x1="0" y1="583" x2="587" y2="583"/></g></svg>2.03</span></div>
<div class="t c " style="left:441.90px;width:260px;top:875.28px;font-size:28.8px">-</div>
<div class="t c " style="left:629.00px;width:260px;top:875.28px;font-size:28.8px">53.68<span class="sd" style="font-size:17.3px"><svg class="pm" viewBox="0 0 587 614"><g stroke="#000" stroke-width="80"><line x1="293" y1="0" x2="293" y2="560"/><line x1="0" y1="291" x2="587" y2="291"/><line x1="0" y1="583" x2="587" y2="583"/></g></svg>0.82</span></div>
<div class="t c " style="left:839.10px;width:260px;top:875.28px;font-size:28.8px">90.53<span class="sd" style="font-size:17.3px"><svg class="pm" viewBox="0 0 587 614"><g stroke="#000" stroke-width="80"><line x1="293" y1="0" x2="293" y2="560"/><line x1="0" y1="291" x2="587" y2="291"/><line x1="0" y1="583" x2="587" y2="583"/></g></svg>0.33</span></div>
<div class="t c " style="left:1028.50px;width:260px;top:875.28px;font-size:28.8px">96.94<span class="sd" style="font-size:17.3px"><svg class="pm" viewBox="0 0 587 614"><g stroke="#000" stroke-width="80"><line x1="293" y1="0" x2="293" y2="560"/><line x1="0" y1="291" x2="587" y2="291"/><line x1="0" y1="583" x2="587" y2="583"/></g></svg>1.96</span></div>
<div class="t c " style="left:1200.50px;width:260px;top:875.28px;font-size:28.8px">-</div>
<div class="t " style="left:45.60px;top:906.98px;font-size:28.8px">(-) Dropout</div>
<div class="t c " style="left:291.20px;width:260px;top:906.98px;font-size:28.8px">42.89<span class="sd" style="font-size:17.3px"><svg class="pm" viewBox="0 0 587 614"><g stroke="#000" stroke-width="80"><line x1="293" y1="0" x2="293" y2="560"/><line x1="0" y1="291" x2="587" y2="291"/><line x1="0" y1="583" x2="587" y2="583"/></g></svg>1.28</span></div>
<div class="t c " style="left:441.90px;width:260px;top:906.98px;font-size:28.8px">45.28<span class="sd" style="font-size:17.3px"><svg class="pm" viewBox="0 0 587 614"><g stroke="#000" stroke-width="80"><line x1="293" y1="0" x2="293" y2="560"/><line x1="0" y1="291" x2="587" y2="291"/><line x1="0" y1="583" x2="587" y2="583"/></g></svg>4.78</span></div>
<div class="t c " style="left:629.00px;width:260px;top:906.98px;font-size:28.8px">51.37<span class="sd" style="font-size:17.3px"><svg class="pm" viewBox="0 0 587 614"><g stroke="#000" stroke-width="80"><line x1="293" y1="0" x2="293" y2="560"/><line x1="0" y1="291" x2="587" y2="291"/><line x1="0" y1="583" x2="587" y2="583"/></g></svg>0.34</span></div>
<div class="t c " style="left:839.10px;width:260px;top:906.98px;font-size:28.8px">85.10<span class="sd" style="font-size:17.3px"><svg class="pm" viewBox="0 0 587 614"><g stroke="#000" stroke-width="80"><line x1="293" y1="0" x2="293" y2="560"/><line x1="0" y1="291" x2="587" y2="291"/><line x1="0" y1="583" x2="587" y2="583"/></g></svg>0.61</span></div>
<div class="t c " style="left:1028.50px;width:260px;top:906.98px;font-size:28.8px">94.28<span class="sd" style="font-size:17.3px"><svg class="pm" viewBox="0 0 587 614"><g stroke="#000" stroke-width="80"><line x1="293" y1="0" x2="293" y2="560"/><line x1="0" y1="291" x2="587" y2="291"/><line x1="0" y1="583" x2="587" y2="583"/></g></svg>2.29</span></div>
<div class="t c " style="left:1200.50px;width:260px;top:906.98px;font-size:28.8px">76.58<span class="sd" style="font-size:17.3px"><svg class="pm" viewBox="0 0 587 614"><g stroke="#000" stroke-width="80"><line x1="293" y1="0" x2="293" y2="560"/><line x1="0" y1="291" x2="587" y2="291"/><line x1="0" y1="583" x2="587" y2="583"/></g></svg>0.40</span></div>
<div class="t " style="left:45.60px;top:938.58px;font-size:28.8px">(-) Residual Connections</div>
<div class="t c " style="left:291.20px;width:260px;top:938.58px;font-size:28.8px">43.14<span class="sd" style="font-size:17.3px"><svg class="pm" viewBox="0 0 587 614"><g stroke="#000" stroke-width="80"><line x1="293" y1="0" x2="293" y2="560"/><line x1="0" y1="291" x2="587" y2="291"/><line x1="0" y1="583" x2="587" y2="583"/></g></svg>1.82</span></div>
<div class="t c " style="left:441.90px;width:260px;top:938.58px;font-size:28.8px">-</div>
<div class="t c " style="left:629.00px;width:260px;top:938.58px;font-size:28.8px">51.14<span class="sd" style="font-size:17.3px"><svg class="pm" viewBox="0 0 587 614"><g stroke="#000" stroke-width="80"><line x1="293" y1="0" x2="293" y2="560"/><line x1="0" y1="291" x2="587" y2="291"/><line x1="0" y1="583" x2="587" y2="583"/></g></svg>0.34</span></div>
<div class="t c " style="left:839.10px;width:260px;top:938.58px;font-size:28.8px">74.84<span class="sd" style="font-size:17.3px"><svg class="pm" viewBox="0 0 587 614"><g stroke="#000" stroke-width="80"><line x1="293" y1="0" x2="293" y2="560"/><line x1="0" y1="291" x2="587" y2="291"/><line x1="0" y1="583" x2="587" y2="583"/></g></svg>0.62</span></div>
<div class="t c " style="left:1028.50px;width:260px;top:938.58px;font-size:28.8px">86.45<span class="sd" style="font-size:17.3px"><svg class="pm" viewBox="0 0 587 614"><g stroke="#000" stroke-width="80"><line x1="293" y1="0" x2="293" y2="560"/><line x1="0" y1="291" x2="587" y2="291"/><line x1="0" y1="583" x2="587" y2="583"/></g></svg>0.89</span></div>
<div class="t c " style="left:1200.50px;width:260px;top:938.58px;font-size:28.8px">75.87<span class="sd" style="font-size:17.3px"><svg class="pm" viewBox="0 0 587 614"><g stroke="#000" stroke-width="80"><line x1="293" y1="0" x2="293" y2="560"/><line x1="0" y1="291" x2="587" y2="291"/><line x1="0" y1="583" x2="587" y2="583"/></g></svg>4.47</span></div>
<div class="t " style="left:45.60px;top:985.63px;font-size:28.8px"><b>GraphSAGE</b><svg class="st" style="margin-left:-0.036em" viewBox="-50 -50 100 100"><g stroke="#000" stroke-width="13" stroke-linecap="round"><line x1="0" y1="-41" x2="0" y2="41"/><line x1="-44" y1="-20" x2="44" y2="20"/><line x1="-44" y1="20" x2="44" y2="-20"/></g></svg></div>
<div class="t c " style="left:291.20px;width:260px;top:985.63px;font-size:28.8px"><b>40.78</b><span class="sd" style="font-size:17.3px"><svg class="pm" viewBox="0 0 587 614"><g stroke="#000" stroke-width="80"><line x1="293" y1="0" x2="293" y2="560"/><line x1="0" y1="291" x2="587" y2="291"/><line x1="0" y1="583" x2="587" y2="583"/></g></svg>1.47</span></div>
<div class="t c " style="left:441.90px;width:260px;top:985.63px;font-size:28.8px"><b>44.81</b><span class="sd" style="font-size:17.3px"><svg class="pm" viewBox="0 0 587 614"><g stroke="#000" stroke-width="80"><line x1="293" y1="0" x2="293" y2="560"/><line x1="0" y1="291" x2="587" y2="291"/><line x1="0" y1="583" x2="587" y2="583"/></g></svg>4.74</span></div>
<div class="t c " style="left:629.00px;width:260px;top:985.63px;font-size:28.8px"><b>55.40</b><span class="sd" style="font-size:17.3px"><svg class="pm" viewBox="0 0 587 614"><g stroke="#000" stroke-width="80"><line x1="293" y1="0" x2="293" y2="560"/><line x1="0" y1="291" x2="587" y2="291"/><line x1="0" y1="583" x2="587" y2="583"/></g></svg>0.21</span></div>
<div class="t c " style="left:839.10px;width:260px;top:985.63px;font-size:28.8px"><b>91.06</b><span class="sd" style="font-size:17.3px"><svg class="pm" viewBox="0 0 587 614"><g stroke="#000" stroke-width="80"><line x1="293" y1="0" x2="293" y2="560"/><line x1="0" y1="291" x2="587" y2="291"/><line x1="0" y1="583" x2="587" y2="583"/></g></svg>0.27</span></div>
<div class="t c " style="left:1028.50px;width:260px;top:985.63px;font-size:28.8px"><b>97.77</b><span class="sd" style="font-size:17.3px"><svg class="pm" viewBox="0 0 587 614"><g stroke="#000" stroke-width="80"><line x1="293" y1="0" x2="293" y2="560"/><line x1="0" y1="291" x2="587" y2="291"/><line x1="0" y1="583" x2="587" y2="583"/></g></svg>0.62</span></div>
<div class="t c " style="left:1200.50px;width:260px;top:985.63px;font-size:28.8px"><b>77.21</b><span class="sd" style="font-size:17.3px"><svg class="pm" viewBox="0 0 587 614"><g stroke="#000" stroke-width="80"><line x1="293" y1="0" x2="293" y2="560"/><line x1="0" y1="291" x2="587" y2="291"/><line x1="0" y1="583" x2="587" y2="583"/></g></svg>1.28</span></div>
<div class="t " style="left:45.60px;top:1017.03px;font-size:28.8px">(-) Normalization</div>
<div class="t c " style="left:291.20px;width:260px;top:1017.03px;font-size:28.8px">40.27<span class="sd" style="font-size:17.3px"><svg class="pm" viewBox="0 0 587 614"><g stroke="#000" stroke-width="80"><line x1="293" y1="0" x2="293" y2="560"/><line x1="0" y1="291" x2="587" y2="291"/><line x1="0" y1="583" x2="587" y2="583"/></g></svg>2.27</span></div>
<div class="t c " style="left:441.90px;width:260px;top:1017.03px;font-size:28.8px">44.02<span class="sd" style="font-size:17.3px"><svg class="pm" viewBox="0 0 587 614"><g stroke="#000" stroke-width="80"><line x1="293" y1="0" x2="293" y2="560"/><line x1="0" y1="291" x2="587" y2="291"/><line x1="0" y1="583" x2="587" y2="583"/></g></svg>3.53</span></div>
<div class="t c " style="left:629.00px;width:260px;top:1017.03px;font-size:28.8px">54.41<span class="sd" style="font-size:17.3px"><svg class="pm" viewBox="0 0 587 614"><g stroke="#000" stroke-width="80"><line x1="293" y1="0" x2="293" y2="560"/><line x1="0" y1="291" x2="587" y2="291"/><line x1="0" y1="583" x2="587" y2="583"/></g></svg>0.30</span></div>
<div class="t c " style="left:839.10px;width:260px;top:1017.03px;font-size:28.8px">90.58<span class="sd" style="font-size:17.3px"><svg class="pm" viewBox="0 0 587 614"><g stroke="#000" stroke-width="80"><line x1="293" y1="0" x2="293" y2="560"/><line x1="0" y1="291" x2="587" y2="291"/><line x1="0" y1="583" x2="587" y2="583"/></g></svg>0.24</span></div>
<div class="t c " style="left:1028.50px;width:260px;top:1017.03px;font-size:28.8px">97.64<span class="sd" style="font-size:17.3px"><svg class="pm" viewBox="0 0 587 614"><g stroke="#000" stroke-width="80"><line x1="293" y1="0" x2="293" y2="560"/><line x1="0" y1="291" x2="587" y2="291"/><line x1="0" y1="583" x2="587" y2="583"/></g></svg>0.41</span></div>
<div class="t c " style="left:1200.50px;width:260px;top:1017.03px;font-size:28.8px">76.17<span class="sd" style="font-size:17.3px"><svg class="pm" viewBox="0 0 587 614"><g stroke="#000" stroke-width="80"><line x1="293" y1="0" x2="293" y2="560"/><line x1="0" y1="291" x2="587" y2="291"/><line x1="0" y1="583" x2="587" y2="583"/></g></svg>0.41</span></div>
<div class="t " style="left:45.60px;top:1048.73px;font-size:28.8px">(-) Dropout</div>
<div class="t c " style="left:291.20px;width:260px;top:1048.73px;font-size:28.8px">38.83<span class="sd" style="font-size:17.3px"><svg class="pm" viewBox="0 0 587 614"><g stroke="#000" stroke-width="80"><line x1="293" y1="0" x2="293" y2="560"/><line x1="0" y1="291" x2="587" y2="291"/><line x1="0" y1="583" x2="587" y2="583"/></g></svg>1.94</span></div>
<div class="t c " style="left:441.90px;width:260px;top:1048.73px;font-size:28.8px">43.11<span class="sd" style="font-size:17.3px"><svg class="pm" viewBox="0 0 587 614"><g stroke="#000" stroke-width="80"><line x1="293" y1="0" x2="293" y2="560"/><line x1="0" y1="291" x2="587" y2="291"/><line x1="0" y1="583" x2="587" y2="583"/></g></svg>3.36</span></div>
<div class="t c " style="left:629.00px;width:260px;top:1048.73px;font-size:28.8px">51.12<span class="sd" style="font-size:17.3px"><svg class="pm" viewBox="0 0 587 614"><g stroke="#000" stroke-width="80"><line x1="293" y1="0" x2="293" y2="560"/><line x1="0" y1="291" x2="587" y2="291"/><line x1="0" y1="583" x2="587" y2="583"/></g></svg>0.66</span></div>
<div class="t c " style="left:839.10px;width:260px;top:1048.73px;font-size:28.8px">84.49<span class="sd" style="font-size:17.3px"><svg class="pm" viewBox="0 0 587 614"><g stroke="#000" stroke-width="80"><line x1="293" y1="0" x2="293" y2="560"/><line x1="0" y1="291" x2="587" y2="291"/><line x1="0" y1="583" x2="587" y2="583"/></g></svg>0.35</span></div>
<div class="t c " style="left:1028.50px;width:260px;top:1048.73px;font-size:28.8px">93.83<span class="sd" style="font-size:17.3px"><svg class="pm" viewBox="0 0 587 614"><g stroke="#000" stroke-width="80"><line x1="293" y1="0" x2="293" y2="560"/><line x1="0" y1="291" x2="587" y2="291"/><line x1="0" y1="583" x2="587" y2="583"/></g></svg>0.38</span></div>
<div class="t c " style="left:1200.50px;width:260px;top:1048.73px;font-size:28.8px">76.36<span class="sd" style="font-size:17.3px"><svg class="pm" viewBox="0 0 587 614"><g stroke="#000" stroke-width="80"><line x1="293" y1="0" x2="293" y2="560"/><line x1="0" y1="291" x2="587" y2="291"/><line x1="0" y1="583" x2="587" y2="583"/></g></svg>1.50</span></div>
<div class="t " style="left:45.60px;top:1080.33px;font-size:28.8px">(-) Residual Connections</div>
<div class="t c " style="left:291.20px;width:260px;top:1080.33px;font-size:28.8px">40.06<span class="sd" style="font-size:17.3px"><svg class="pm" viewBox="0 0 587 614"><g stroke="#000" stroke-width="80"><line x1="293" y1="0" x2="293" y2="560"/><line x1="0" y1="291" x2="587" y2="291"/><line x1="0" y1="583" x2="587" y2="583"/></g></svg>2.31</span></div>
<div class="t c " style="left:441.90px;width:260px;top:1080.33px;font-size:28.8px">41.85<span class="sd" style="font-size:17.3px"><svg class="pm" viewBox="0 0 587 614"><g stroke="#000" stroke-width="80"><line x1="293" y1="0" x2="293" y2="560"/><line x1="0" y1="291" x2="587" y2="291"/><line x1="0" y1="583" x2="587" y2="583"/></g></svg>3.86</span></div>
<div class="t c " style="left:629.00px;width:260px;top:1080.33px;font-size:28.8px">53.52<span class="sd" style="font-size:17.3px"><svg class="pm" viewBox="0 0 587 614"><g stroke="#000" stroke-width="80"><line x1="293" y1="0" x2="293" y2="560"/><line x1="0" y1="291" x2="587" y2="291"/><line x1="0" y1="583" x2="587" y2="583"/></g></svg>0.19</span></div>
<div class="t c " style="left:839.10px;width:260px;top:1080.33px;font-size:28.8px">-</div>
<div class="t c " style="left:1028.50px;width:260px;top:1080.33px;font-size:28.8px">96.64<span class="sd" style="font-size:17.3px"><svg class="pm" viewBox="0 0 587 614"><g stroke="#000" stroke-width="80"><line x1="293" y1="0" x2="293" y2="560"/><line x1="0" y1="291" x2="587" y2="291"/><line x1="0" y1="583" x2="587" y2="583"/></g></svg>0.85</span></div>
<div class="t c " style="left:1200.50px;width:260px;top:1080.33px;font-size:28.8px">-</div>
<div class="t " style="left:45.60px;top:1127.43px;font-size:28.8px"><b>GAT</b><svg class="st" style="margin-left:0.05em" viewBox="-50 -50 100 100"><g stroke="#000" stroke-width="13" stroke-linecap="round"><line x1="0" y1="-41" x2="0" y2="41"/><line x1="-44" y1="-20" x2="44" y2="20"/><line x1="-44" y1="20" x2="44" y2="-20"/></g></svg></div>
<div class="t c " style="left:291.20px;width:260px;top:1127.43px;font-size:28.8px"><b>41.73</b><span class="sd" style="font-size:17.3px"><svg class="pm" viewBox="0 0 587 614"><g stroke="#000" stroke-width="80"><line x1="293" y1="0" x2="293" y2="560"/><line x1="0" y1="291" x2="587" y2="291"/><line x1="0" y1="583" x2="587" y2="583"/></g></svg>2.07</span></div>
<div class="t c " style="left:441.90px;width:260px;top:1127.43px;font-size:28.8px"><b>44.13</b><span class="sd" style="font-size:17.3px"><svg class="pm" viewBox="0 0 587 614"><g stroke="#000" stroke-width="80"><line x1="293" y1="0" x2="293" y2="560"/><line x1="0" y1="291" x2="587" y2="291"/><line x1="0" y1="583" x2="587" y2="583"/></g></svg>4.17</span></div>
<div class="t c " style="left:629.00px;width:260px;top:1127.43px;font-size:28.8px"><b>55.54</b><span class="sd" style="font-size:17.3px"><svg class="pm" viewBox="0 0 587 614"><g stroke="#000" stroke-width="80"><line x1="293" y1="0" x2="293" y2="560"/><line x1="0" y1="291" x2="587" y2="291"/><line x1="0" y1="583" x2="587" y2="583"/></g></svg>0.51</span></div>
<div class="t c " style="left:839.10px;width:260px;top:1127.43px;font-size:28.8px"><b>90.63</b><span class="sd" style="font-size:17.3px"><svg class="pm" viewBox="0 0 587 614"><g stroke="#000" stroke-width="80"><line x1="293" y1="0" x2="293" y2="560"/><line x1="0" y1="291" x2="587" y2="291"/><line x1="0" y1="583" x2="587" y2="583"/></g></svg>0.14</span></div>
<div class="t c " style="left:1028.50px;width:260px;top:1127.43px;font-size:28.8px"><b>97.73</b><span class="sd" style="font-size:17.3px"><svg class="pm" viewBox="0 0 587 614"><g stroke="#000" stroke-width="80"><line x1="293" y1="0" x2="293" y2="560"/><line x1="0" y1="291" x2="587" y2="291"/><line x1="0" y1="583" x2="587" y2="583"/></g></svg>0.73</span></div>
<div class="t c " style="left:1200.50px;width:260px;top:1127.43px;font-size:28.8px"><b>77.95</b><span class="sd" style="font-size:17.3px"><svg class="pm" viewBox="0 0 587 614"><g stroke="#000" stroke-width="80"><line x1="293" y1="0" x2="293" y2="560"/><line x1="0" y1="291" x2="587" y2="291"/><line x1="0" y1="583" x2="587" y2="583"/></g></svg>0.51</span></div>
<div class="t " style="left:45.60px;top:1158.83px;font-size:28.8px">(-) Normalization</div>
<div class="t c " style="left:291.20px;width:260px;top:1158.83px;font-size:28.8px">41.08<span class="sd" style="font-size:17.3px"><svg class="pm" viewBox="0 0 587 614"><g stroke="#000" stroke-width="80"><line x1="293" y1="0" x2="293" y2="560"/><line x1="0" y1="291" x2="587" y2="291"/><line x1="0" y1="583" x2="587" y2="583"/></g></svg>1.63</span></div>
<div class="t c " style="left:441.90px;width:260px;top:1158.83px;font-size:28.8px">43.25<span class="sd" style="font-size:17.3px"><svg class="pm" viewBox="0 0 587 614"><g stroke="#000" stroke-width="80"><line x1="293" y1="0" x2="293" y2="560"/><line x1="0" y1="291" x2="587" y2="291"/><line x1="0" y1="583" x2="587" y2="583"/></g></svg>3.84</span></div>
<div class="t c " style="left:629.00px;width:260px;top:1158.83px;font-size:28.8px">54.85<span class="sd" style="font-size:17.3px"><svg class="pm" viewBox="0 0 587 614"><g stroke="#000" stroke-width="80"><line x1="293" y1="0" x2="293" y2="560"/><line x1="0" y1="291" x2="587" y2="291"/><line x1="0" y1="583" x2="587" y2="583"/></g></svg>0.39</span></div>
<div class="t c " style="left:839.10px;width:260px;top:1158.83px;font-size:28.8px">89.69<span class="sd" style="font-size:17.3px"><svg class="pm" viewBox="0 0 587 614"><g stroke="#000" stroke-width="80"><line x1="293" y1="0" x2="293" y2="560"/><line x1="0" y1="291" x2="587" y2="291"/><line x1="0" y1="583" x2="587" y2="583"/></g></svg>0.39</span></div>
<div class="t c " style="left:1028.50px;width:260px;top:1158.83px;font-size:28.8px">97.42<span class="sd" style="font-size:17.3px"><svg class="pm" viewBox="0 0 587 614"><g stroke="#000" stroke-width="80"><line x1="293" y1="0" x2="293" y2="560"/><line x1="0" y1="291" x2="587" y2="291"/><line x1="0" y1="583" x2="587" y2="583"/></g></svg>0.85</span></div>
<div class="t c " style="left:1200.50px;width:260px;top:1158.83px;font-size:28.8px">76.32<span class="sd" style="font-size:17.3px"><svg class="pm" viewBox="0 0 587 614"><g stroke="#000" stroke-width="80"><line x1="293" y1="0" x2="293" y2="560"/><line x1="0" y1="291" x2="587" y2="291"/><line x1="0" y1="583" x2="587" y2="583"/></g></svg>0.24</span></div>
<div class="t " style="left:45.60px;top:1190.53px;font-size:28.8px">(-) Dropout</div>
<div class="t c " style="left:291.20px;width:260px;top:1190.53px;font-size:28.8px">39.81<span class="sd" style="font-size:17.3px"><svg class="pm" viewBox="0 0 587 614"><g stroke="#000" stroke-width="80"><line x1="293" y1="0" x2="293" y2="560"/><line x1="0" y1="291" x2="587" y2="291"/><line x1="0" y1="583" x2="587" y2="583"/></g></svg>3.15</span></div>
<div class="t c " style="left:441.90px;width:260px;top:1190.53px;font-size:28.8px">41.19<span class="sd" style="font-size:17.3px"><svg class="pm" viewBox="0 0 587 614"><g stroke="#000" stroke-width="80"><line x1="293" y1="0" x2="293" y2="560"/><line x1="0" y1="291" x2="587" y2="291"/><line x1="0" y1="583" x2="587" y2="583"/></g></svg>2.36</span></div>
<div class="t c " style="left:629.00px;width:260px;top:1190.53px;font-size:28.8px">51.48<span class="sd" style="font-size:17.3px"><svg class="pm" viewBox="0 0 587 614"><g stroke="#000" stroke-width="80"><line x1="293" y1="0" x2="293" y2="560"/><line x1="0" y1="291" x2="587" y2="291"/><line x1="0" y1="583" x2="587" y2="583"/></g></svg>0.28</span></div>
<div class="t c " style="left:839.10px;width:260px;top:1190.53px;font-size:28.8px">82.47<span class="sd" style="font-size:17.3px"><svg class="pm" viewBox="0 0 587 614"><g stroke="#000" stroke-width="80"><line x1="293" y1="0" x2="293" y2="560"/><line x1="0" y1="291" x2="587" y2="291"/><line x1="0" y1="583" x2="587" y2="583"/></g></svg>0.70</span></div>
<div class="t c " style="left:1028.50px;width:260px;top:1190.53px;font-size:28.8px">92.26<span class="sd" style="font-size:17.3px"><svg class="pm" viewBox="0 0 587 614"><g stroke="#000" stroke-width="80"><line x1="293" y1="0" x2="293" y2="560"/><line x1="0" y1="291" x2="587" y2="291"/><line x1="0" y1="583" x2="587" y2="583"/></g></svg>4.63</span></div>
<div class="t c " style="left:1200.50px;width:260px;top:1190.53px;font-size:28.8px">76.19<span class="sd" style="font-size:17.3px"><svg class="pm" viewBox="0 0 587 614"><g stroke="#000" stroke-width="80"><line x1="293" y1="0" x2="293" y2="560"/><line x1="0" y1="291" x2="587" y2="291"/><line x1="0" y1="583" x2="587" y2="583"/></g></svg>0.88</span></div>
<div class="t " style="left:45.60px;top:1222.13px;font-size:28.8px">(-) Residual Connections</div>
<div class="t c " style="left:291.20px;width:260px;top:1222.13px;font-size:28.8px">38.46<span class="sd" style="font-size:17.3px"><svg class="pm" viewBox="0 0 587 614"><g stroke="#000" stroke-width="80"><line x1="293" y1="0" x2="293" y2="560"/><line x1="0" y1="291" x2="587" y2="291"/><line x1="0" y1="583" x2="587" y2="583"/></g></svg>1.96</span></div>
<div class="t c " style="left:441.90px;width:260px;top:1222.13px;font-size:28.8px">42.57<span class="sd" style="font-size:17.3px"><svg class="pm" viewBox="0 0 587 614"><g stroke="#000" stroke-width="80"><line x1="293" y1="0" x2="293" y2="560"/><line x1="0" y1="291" x2="587" y2="291"/><line x1="0" y1="583" x2="587" y2="583"/></g></svg>3.66</span></div>
<div class="t c " style="left:629.00px;width:260px;top:1222.13px;font-size:28.8px">51.08<span class="sd" style="font-size:17.3px"><svg class="pm" viewBox="0 0 587 614"><g stroke="#000" stroke-width="80"><line x1="293" y1="0" x2="293" y2="560"/><line x1="0" y1="291" x2="587" y2="291"/><line x1="0" y1="583" x2="587" y2="583"/></g></svg>0.49</span></div>
<div class="t c " style="left:839.10px;width:260px;top:1222.13px;font-size:28.8px">85.15<span class="sd" style="font-size:17.3px"><svg class="pm" viewBox="0 0 587 614"><g stroke="#000" stroke-width="80"><line x1="293" y1="0" x2="293" y2="560"/><line x1="0" y1="291" x2="587" y2="291"/><line x1="0" y1="583" x2="587" y2="583"/></g></svg>0.82</span></div>
<div class="t c " style="left:1028.50px;width:260px;top:1222.13px;font-size:28.8px">92.83<span class="sd" style="font-size:17.3px"><svg class="pm" viewBox="0 0 587 614"><g stroke="#000" stroke-width="80"><line x1="293" y1="0" x2="293" y2="560"/><line x1="0" y1="291" x2="587" y2="291"/><line x1="0" y1="583" x2="587" y2="583"/></g></svg>1.61</span></div>
<div class="t c " style="left:1200.50px;width:260px;top:1222.13px;font-size:28.8px">75.17<span class="sd" style="font-size:17.3px"><svg class="pm" viewBox="0 0 587 614"><g stroke="#000" stroke-width="80"><line x1="293" y1="0" x2="293" y2="560"/><line x1="0" y1="291" x2="587" y2="291"/><line x1="0" y1="583" x2="587" y2="583"/></g></svg>0.71</span></div>
</body></html>
